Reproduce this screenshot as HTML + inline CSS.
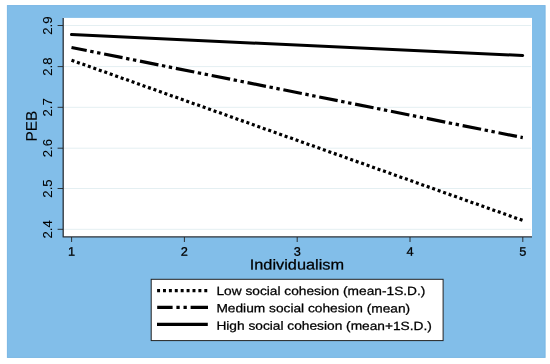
<!DOCTYPE html>
<html><head><meta charset="utf-8">
<style>
html,body{margin:0;padding:0;background:#fff;}
svg{display:block;}
text{font-family:"Liberation Sans",Arial,sans-serif;fill:#000;stroke:#000;stroke-width:0.25px;}
</style></head><body>
<svg width="550" height="364" viewBox="0 0 550 364">
<rect x="0" y="0" width="550" height="364" fill="#ffffff"/>
<rect x="7.4" y="5.6" width="537.7" height="351.8" fill="#82bee9" stroke="#78b6e4" stroke-width="1"/>
<rect x="63" y="17.9" width="469" height="219.1" fill="#ffffff"/>
<g stroke="#e4eff2" stroke-width="1">
<line x1="63" x2="531" y1="25.5" y2="25.5"/>
<line x1="63" x2="531" y1="66.6" y2="66.6"/>
<line x1="63" x2="531" y1="107.3" y2="107.3"/>
<line x1="63" x2="531" y1="148.2" y2="148.2"/>
<line x1="63" x2="531" y1="188.5" y2="188.5"/>
<line x1="63" x2="531" y1="229.3" y2="229.3"/>
</g>
<g stroke="#000" stroke-width="3.2" fill="none" stroke-linecap="butt">
<line x1="71.5" y1="34.6" x2="522.7" y2="55.5" stroke-linecap="round" stroke-width="3.0"/>
<line x1="71.5" y1="47.5" x2="522.8" y2="137.6" stroke-dasharray="18.8 3.6 3.4 3.6 3.4 3.76" stroke-dashoffset="3.3"/>
<line x1="71.5" y1="60.2" x2="522.6" y2="220.4" stroke-dasharray="3.0 2.8"/>
</g>
<g stroke="#222" stroke-width="0.9">
<polyline points="63.2,18 63.2,236.9 532,236.9" fill="none" stroke="#2a3138" stroke-width="1.3" stroke-linejoin="round"/>
<line x1="57.6" x2="63" y1="25.5" y2="25.5"/>
<line x1="57.6" x2="63" y1="66.6" y2="66.6"/>
<line x1="57.6" x2="63" y1="107.3" y2="107.3"/>
<line x1="57.6" x2="63" y1="148.2" y2="148.2"/>
<line x1="57.6" x2="63" y1="188.5" y2="188.5"/>
<line x1="57.6" x2="63" y1="229.3" y2="229.3"/>
<line x1="71.6" x2="71.6" y1="237" y2="242"/>
<line x1="184.4" x2="184.4" y1="237" y2="242"/>
<line x1="297.2" x2="297.2" y1="237" y2="242"/>
<line x1="410.0" x2="410.0" y1="237" y2="242"/>
<line x1="522.8" x2="522.8" y1="237" y2="242"/>
</g>
<g font-size="12.8" text-anchor="middle">
<text font-size="12.4" transform="translate(71.6,255.7) rotate(0.05) scale(1.03,1)">1</text>
<text font-size="12.4" transform="translate(184.4,255.7) rotate(0.05) scale(1.03,1)">2</text>
<text font-size="12.4" transform="translate(297.2,255.7) rotate(0.05) scale(1.03,1)">3</text>
<text font-size="12.4" transform="translate(410.0,255.7) rotate(0.05) scale(1.03,1)">4</text>
<text font-size="12.4" transform="translate(522.8,255.7) rotate(0.05) scale(1.03,1)">5</text>
<text style="stroke-width:0.08px" transform="translate(52.3,25.6) rotate(-90)" font-size="13.2">2.9</text>
<text style="stroke-width:0.08px" transform="translate(52.3,66.6) rotate(-90)" font-size="13.2">2.8</text>
<text style="stroke-width:0.08px" transform="translate(52.3,107.3) rotate(-90)" font-size="13.2">2.7</text>
<text style="stroke-width:0.08px" transform="translate(52.3,148.1) rotate(-90)" font-size="13.2">2.6</text>
<text style="stroke-width:0.08px" transform="translate(52.3,188.5) rotate(-90)" font-size="13.2">2.5</text>
<text style="stroke-width:0.08px" transform="translate(52.3,229.3) rotate(-90)" font-size="13.2">2.4</text>
</g>
<text font-size="14.5" text-anchor="middle" transform="translate(296.9,269.5) rotate(0.03) scale(1.126,1)">Individualism</text>
<text font-size="15.4" text-anchor="middle" style="stroke-width:0.1px" transform="translate(36.8,126.2) rotate(-90.03)">PEB</text>
<rect x="151.2" y="279.3" width="291.9" height="61.3" fill="#fff" stroke="#222" stroke-width="1"/>
<g stroke="#000" stroke-width="3.3" fill="none">
<line x1="157.1" x2="207.4" y1="290.6" y2="290.6" stroke-dasharray="2.95 2.95"/>
<line x1="157.2" x2="208" y1="307.4" y2="307.4" stroke-dasharray="18.6 3.8 3.3 3.8 3.3 3.8" stroke-dashoffset="3.2"/>
<line x1="157" x2="207.8" y1="324.4" y2="324.4"/>
</g>
<g font-size="11.95">
<text transform="translate(216.4,295.0) rotate(0.03) scale(1.15,1)">Low social cohesion (mean-1S.D.)</text>
<text transform="translate(216.4,312.3) rotate(0.03) scale(1.15,1)">Medium social cohesion (mean)</text>
<text transform="translate(216.4,329.8) rotate(0.03) scale(1.15,1)">High social cohesion (mean+1S.D.)</text>
</g>
</svg>
</body></html>
